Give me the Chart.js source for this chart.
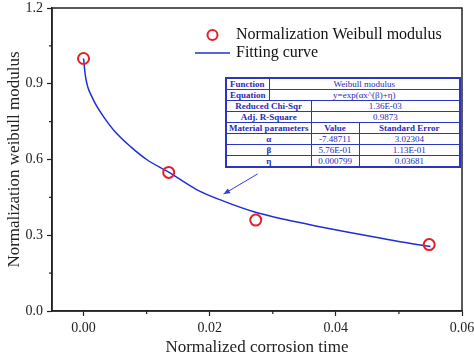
<!DOCTYPE html>
<html lang="en">
<head>
<meta charset="UTF-8">
<title>Normalization Weibull modulus</title>
<script src="https://cdn.jsdelivr.net/npm/chart.js@4.4.1/dist/chart.umd.min.js"></script>
<style>
  body { margin: 0; background: #fff; }
  #wrap { position: relative; width: 474px; height: 362px; }
  #fitTable {
    position: absolute; left: 225px; top: 77px;
    border-collapse: collapse; border: 2px solid #2c35c0;
    background: #fff; color: #2a2ab8;
    font-family: "Liberation Serif", "Times New Roman", serif; font-size: 9px;
    table-layout: fixed;
  }
  #fitTable td {
    border: 1px solid #2c35c0; height: 10px; padding: 0; line-height: 10px;
    text-align: center; white-space: nowrap; overflow: hidden;
  }
  #fitTable .b { font-weight: bold; }
  #fitTable .l { text-align: left; padding-left: 3px; }
</style>
</head>
<body>
<div id="wrap">
  <canvas id="chart" width="474" height="362"></canvas>
  <table id="fitTable">
    <colgroup><col style="width:43px"><col style="width:42px"><col style="width:48px"><col style="width:101px"></colgroup>
    <tr><td class="b l">Function</td><td colspan="3">Weibull modulus</td></tr>
    <tr><td class="b l">Equation</td><td colspan="3">y=exp(αx^(β)+η)</td></tr>
    <tr><td class="b" colspan="2">Reduced Chi-Sqr</td><td colspan="2">1.36E-03</td></tr>
    <tr><td class="b" colspan="2">Adj. R-Square</td><td colspan="2">0.9873</td></tr>
    <tr><td class="b" colspan="2">Material parameters</td><td class="b">Value</td><td class="b">Standard Error</td></tr>
    <tr><td class="b" colspan="2">α</td><td>-7.48711</td><td>3.02304</td></tr>
    <tr><td class="b" colspan="2">β</td><td>5.76E-01</td><td>1.13E-01</td></tr>
    <tr><td class="b" colspan="2">η</td><td>0.000799</td><td>0.03681</td></tr>
  </table>
</div>
<script>
const timeData = [0, 0.0135, 0.0273, 0.0548];
const modulusData = [1.0, 0.549, 0.360, 0.263];

// fitting curve, sampled off the figure
const fitTime = [0, 0.0003, 0.0007, 0.0012, 0.002, 0.0033, 0.005, 0.0075, 0.010, 0.0135,
  0.018, 0.022, 0.027, 0.032, 0.037, 0.042, 0.047, 0.051, 0.055];
const fitModulus = [1.0, 0.93, 0.885, 0.855, 0.815, 0.765, 0.71, 0.65, 0.60, 0.55,
  0.48, 0.437, 0.393, 0.362, 0.336, 0.312, 0.289, 0.271, 0.255];

const xTicks = [0, 0.02, 0.04, 0.06];
const yTicks = [0, 0.3, 0.6, 0.9, 1.2];

const serif = '"Liberation Serif", "Times New Roman", serif';
const pairs = (xs, ys) => xs.map((x, i) => ({ x: x, y: ys[i] }));

// frame, minor ticks, legend and arrow
const decor = {
  id: 'decor',
  afterDraw(chart) {
    const { ctx, chartArea: a, scales: { x, y } } = chart;
    ctx.save();
    ctx.strokeStyle = '#222';
    ctx.lineWidth = 1.5;
    ctx.strokeRect(a.left, a.top, a.right - a.left, a.bottom - a.top);

    // minor ticks halfway between majors
    ctx.lineWidth = 1.2;
    ctx.beginPath();
    for (let i = 0; i < xTicks.length - 1; i++) {
      const px = x.getPixelForValue((xTicks[i] + xTicks[i + 1]) / 2);
      ctx.moveTo(px, a.bottom); ctx.lineTo(px, a.bottom + 3);
    }
    for (let i = 0; i < yTicks.length - 1; i++) {
      const py = y.getPixelForValue((yTicks[i] + yTicks[i + 1]) / 2);
      ctx.moveTo(a.left, py); ctx.lineTo(a.left - 3, py);
    }
    ctx.stroke();

    // legend
    const ds = chart.data.datasets;
    ctx.font = '16px ' + serif;
    ctx.fillStyle = '#111';
    ctx.textBaseline = 'middle';
    ctx.strokeStyle = ds[0].borderColor;
    ctx.lineWidth = 2;
    ctx.beginPath(); ctx.arc(212.5, 35, 5, 0, Math.PI * 2); ctx.stroke();
    ctx.fillText(ds[0].label, 236, 35);
    ctx.strokeStyle = ds[1].borderColor;
    ctx.lineWidth = 1.5;
    ctx.beginPath(); ctx.moveTo(195, 53); ctx.lineTo(230, 53); ctx.stroke();
    ctx.fillText(ds[1].label, 236, 53);

    // arrow pointing from the table to the curve
    const x0 = x.getPixelForValue(0.0276), y0 = y.getPixelForValue(0.543);
    const x1 = x.getPixelForValue(0.0222), y1 = y.getPixelForValue(0.463);
    const ang = Math.atan2(y1 - y0, x1 - x0);
    ctx.strokeStyle = '#3340d0';
    ctx.fillStyle = '#3340d0';
    ctx.lineWidth = 1;
    ctx.beginPath(); ctx.moveTo(x0, y0); ctx.lineTo(x1, y1); ctx.stroke();
    ctx.beginPath();
    ctx.moveTo(x1, y1);
    ctx.lineTo(x1 - 7 * Math.cos(ang - 0.4), y1 - 7 * Math.sin(ang - 0.4));
    ctx.lineTo(x1 - 7 * Math.cos(ang + 0.4), y1 - 7 * Math.sin(ang + 0.4));
    ctx.closePath(); ctx.fill();
    ctx.restore();
  }
};

new Chart(document.getElementById('chart'), {
  type: 'scatter',
  data: {
    datasets: [{
      label: 'Normalization Weibull modulus',
      data: pairs(timeData, modulusData),
      borderColor: '#e3202b',
      backgroundColor: 'rgba(0,0,0,0)',
      borderWidth: 2,
      pointRadius: 5.5,
      order: 0
    }, {
      label: 'Fitting curve',
      data: pairs(fitTime, fitModulus),
      showLine: true,
      borderColor: '#1f2fd6',
      borderWidth: 1.5,
      pointRadius: 0,
      cubicInterpolationMode: 'monotone',
      order: 1
    }]
  },
  options: {
    responsive: false,
    animation: false,
    layout: { padding: { top: 8, right: 12, left: 0, bottom: 0 } },
    plugins: { legend: { display: false }, tooltip: { enabled: false } },
    scales: {
      x: {
        type: 'linear', min: -0.005, max: 0.06,
        afterBuildTicks: s => { s.ticks = xTicks.map(v => ({ value: v })); },
        afterFit: s => { s.height = 51; s.paddingRight = 0; s.paddingLeft = 0; },
        ticks: { callback: v => v.toFixed(2), color: '#222', padding: 4,
          font: { family: serif, size: 14 }, maxRotation: 0 },
        grid: { drawOnChartArea: false, tickLength: 5, tickWidth: 1.2, tickColor: '#222' },
        border: { color: '#222', width: 1.5 },
        title: { display: true, text: 'Normalized corrosion time', color: '#222',
          font: { family: serif, size: 17 }, padding: { top: 10 } }
      },
      y: {
        min: 0, max: 1.2,
        afterBuildTicks: s => { s.ticks = yTicks.map(v => ({ value: v })); },
        afterFit: s => { s.width = 52; s.paddingTop = 0; s.paddingBottom = 0; },
        ticks: { callback: v => v.toFixed(1), color: '#222', padding: 4,
          font: { family: serif, size: 14 } },
        grid: { drawOnChartArea: false, tickLength: 5, tickWidth: 1.2, tickColor: '#222' },
        border: { color: '#222', width: 1.5 },
        title: { display: true, text: 'Normalization weibull modulus', color: '#222',
          font: { family: serif, size: 17 }, padding: { bottom: 2 } }
      }
    }
  },
  plugins: [decor]
});
</script>
</body>
</html>
